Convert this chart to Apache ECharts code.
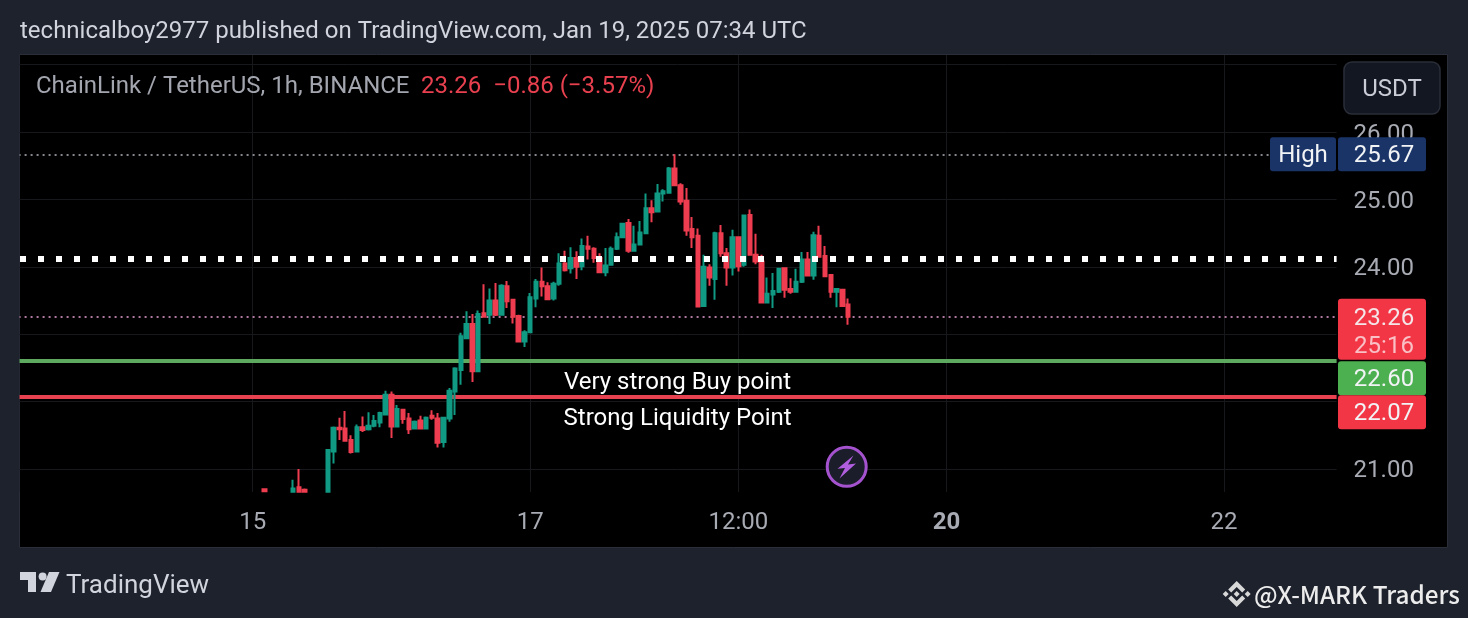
<!DOCTYPE html>
<html>
<head>
<meta charset="utf-8">
<title>ChainLink / TetherUS, 1h</title>
<style>html,body{margin:0;padding:0;background:#1e222d}#c{width:1468px;height:618px}</style>
<script src="https://cdn.jsdelivr.net/npm/echarts@6/dist/echarts.min.js"></script>
</head>
<body>
<div id="c"></div>
<script>
// hour offset of each candle from Jan 15 00:00 UTC
const hours = [2,7,8,9,13,14,15,16,17,18,19,20,21,22,23,24,25,26,27,28,29,30,31,32,33,34,35,36,37,38,39,40,41,42,43,44,45,46,47,48,49,50,51,52,53,54,55,56,57,58,59,60,61,62,63,64,65,66,67,68,69,70,71,72,73,74,75,76,77,78,79,80,81,82,83,84,85,86,87,88,89,90,91,92,93,94,95,96,97,98,99,100,101,102,103];
const opens = [20.70,20.66,20.73,20.69,20.66,21.26,21.61,21.60,21.43,21.26,21.62,21.59,21.64,21.69,21.81,22.10,21.63,21.88,21.75,21.60,21.72,21.60,21.79,21.75,21.40,21.75,22.15,22.47,22.94,23.15,22.45,23.31,23.29,23.50,23.29,23.71,23.51,23.27,22.89,23.03,23.53,23.78,23.71,23.53,23.75,24.05,23.98,24.13,24.01,24.30,24.27,24.13,23.92,24.03,24.27,24.44,24.65,24.24,24.33,24.50,24.87,24.82,25.09,25.10,25.46,25.21,24.98,24.56,24.46,23.42,23.99,23.82,24.50,24.20,23.99,24.44,24.03,24.77,24.18,24.08,23.47,23.59,23.63,23.98,23.67,23.63,23.78,24.11,23.87,24.46,24.16,23.88,23.63,23.66,23.44];
const closes = [20.67,20.71,20.66,20.66,21.28,21.61,21.59,21.42,21.25,21.62,21.58,21.64,21.71,21.83,22.10,21.63,21.89,21.74,21.59,21.70,21.60,21.76,21.76,21.39,21.76,22.16,22.49,22.97,23.15,22.45,23.30,23.26,23.50,23.29,23.72,23.49,23.26,22.89,23.03,23.55,23.78,23.71,23.52,23.75,24.05,23.95,24.13,24.00,24.31,24.27,24.13,23.92,24.02,24.27,24.44,24.64,24.24,24.33,24.51,24.87,24.81,25.09,25.12,25.46,25.21,24.97,24.54,24.44,23.41,24.00,23.84,24.50,24.20,23.99,24.44,24.01,24.76,24.18,24.08,23.47,23.60,23.64,23.97,23.66,23.63,23.78,24.11,23.87,24.47,24.15,23.86,23.63,23.67,23.42,23.26];
const lows = [20.66,20.66,20.66,20.66,20.66,21.08,21.43,21.41,21.23,21.25,21.55,21.57,21.62,21.62,21.80,21.46,21.62,21.67,21.52,21.59,21.59,21.59,21.73,21.32,21.32,21.70,21.80,22.25,22.93,22.29,22.44,23.25,23.15,23.27,23.28,23.39,23.16,22.88,22.81,23.02,23.40,23.56,23.52,23.50,23.72,23.93,23.90,23.82,23.95,24.11,24.06,23.91,23.86,24.02,24.25,24.43,24.21,24.23,24.32,24.49,24.66,24.81,24.97,25.09,25.20,24.92,24.46,24.28,23.41,23.41,23.72,23.51,24.15,23.72,23.87,23.93,24.00,24.17,24.04,23.47,23.46,23.39,23.61,23.54,23.60,23.63,23.76,23.86,23.81,24.15,23.85,23.54,23.40,23.42,23.14];
const highs = [20.70,20.84,21.00,20.71,21.28,21.63,21.76,21.86,21.50,21.66,21.78,21.84,21.80,21.85,22.16,22.15,21.95,21.89,21.83,21.72,21.79,21.78,21.87,21.83,21.77,22.20,22.51,23.02,23.34,23.30,23.35,23.74,23.68,23.76,23.74,23.79,23.52,23.29,23.06,23.61,23.82,23.99,23.77,23.78,24.20,24.24,24.29,24.23,24.42,24.46,24.29,24.20,24.28,24.30,24.51,24.65,24.71,24.61,24.68,25.09,24.99,25.23,25.15,25.48,25.67,25.24,25.17,24.74,24.57,24.18,24.04,24.52,24.62,24.28,24.55,24.44,24.77,24.85,24.49,24.18,23.84,23.91,23.98,23.99,23.83,23.97,24.22,24.22,24.52,24.61,24.31,23.88,23.68,23.67,23.53];

const xTickHours = [0,48,84,120,168];
const xTickLabels = ['15','17','12:00','20','22'];
const boldTicks = ['20'];
const yGridValues = [21,22,23,24,25,26,27];
const yLabelValues = [21,24,25,26];

const highPrice = 25.67;
const lastPrice = 23.26;
const countdown = '25:16';
const whiteLevel = 24.12;
const buyLevel = 22.60;
const buyText = 'Very strong Buy point';
const liquidityLevel = 22.07;
const liquidityText = 'Strong Liquidity Point';

const headerText = 'technicalboy2977 published on TradingView.com, Jan 19, 2025 07:34 UTC';
const symbolText = 'ChainLink / TetherUS, 1h, BINANCE';
const quoteText = '23.26  \u22120.86 (\u22123.57%)';

const FIRST = 40, COUNT = 228;
const categories = Array.from({length: COUNT}, (_, i) => String(i - FIRST));
const candles = new Array(COUNT).fill('-');
hours.forEach((h, k) => { candles[FIRST + h] = [opens[k], closes[k], lows[k], highs[k]]; });
const tickIndex = xTickHours.map(h => FIRST + h);

const FONT = 'Roboto, sans-serif';
const UP = '#109a83', DOWN = '#ef3d50';
const RED = '#f23645', GREEN = '#4caf50', NAVY = '#1a3468';

const chart = echarts.init(document.getElementById('c'), null, {renderer: 'canvas'});

function hLine(v, color, width, dash, extra) {
  return Object.assign({
    yAxis: v, symbol: 'none',
    lineStyle: {color, width, type: dash || 'solid', dashOffset: (extra && extra.dashOffset) || 0},
    label: {show: false}
  }, extra && extra.label ? {label: extra.label} : {});
}
function noteLabel(text) {
  return {show: true, position: 'middle', formatter: text, color: '#ffffff',
    fontFamily: FONT, fontSize: 24, offset: [0, 34], distance: 0};
}

chart.setOption({
  animation: false,
  backgroundColor: '#1e222d',
  title: [
    {text: headerText, left: 20, top: 18, textStyle: {color: '#d1d4dc', fontFamily: FONT, fontSize: 24, fontWeight: 'normal', lineHeight: 28}, padding: 0},
    {text: symbolText, left: 36, top: 73, textStyle: {color: '#a3a6af', fontFamily: FONT, fontSize: 24, fontWeight: 'normal', lineHeight: 28}, padding: 0},
    {text: quoteText, left: 421, top: 73, textStyle: {color: '#e8404f', fontFamily: FONT, fontSize: 24, fontWeight: 'normal', lineHeight: 28}, padding: 0}
  ],
  grid: {left: 18.6, top: 55, width: 1318, height: 437, containLabel: false},
  xAxis: {
    type: 'category', data: categories, boundaryGap: true,
    axisLine: {show: false}, axisTick: {show: false},
    splitLine: {show: true, alignWithLabel: true, interval: i => tickIndex.includes(i), lineStyle: {color: '#16181b', width: 1}},
    axisLabel: {
      interval: i => tickIndex.includes(i), margin: 19,
      color: '#a8abb3', fontFamily: FONT, fontSize: 24, alignWithLabel: true,
      formatter: (v, i) => {
        const t = xTickLabels[tickIndex.indexOf(i)] || '';
        return boldTicks.includes(t) ? '{b|' + t + '}' : t;
      },
      rich: {b: {color: '#a8abb3', fontFamily: FONT, fontSize: 24, fontWeight: 'bold'}}
    }
  },
  yAxis: {
    type: 'value', position: 'right', min: 20.658, max: 27.144, scale: true,
    axisLine: {show: false},
    axisTick: {show: false, customValues: yGridValues},
    splitLine: {show: true, lineStyle: {color: '#16181b', width: 1}},
    axisLabel: {
      customValues: yLabelValues, margin: 17,
      formatter: v => '{p|' + v.toFixed(2) + '}',
      rich: {p: {color: '#a8abb3', fontFamily: FONT, fontSize: 24, padding: [5, 0, 0, 0]}}
    }
  },
  series: [
    {
      type: 'line', data: [], z: 1, silent: true,
      markLine: {
        z: 1, silent: true, animation: false, symbol: 'none', precision: 2,
        data: [
          hLine(highPrice, '#85878c', 2, [2, 4]),
          hLine(lastPrice, '#b0789f', 2, [2, 4]),
          hLine(buyLevel, '#5ca95f', 4, 'solid', {label: noteLabel(buyText)}),
          hLine(liquidityLevel, '#e8414f', 4, 'solid', {label: noteLabel(liquidityText)})
        ]
      }
    },
    {
      type: 'candlestick', name: 'LINKUSDT', z: 2, data: candles, barWidth: 4,
      itemStyle: {color: UP, color0: DOWN, borderColor: UP, borderColor0: DOWN, borderWidth: 2}
    },
    {
      type: 'line', data: [], z: 5, silent: true,
      markLine: {
        z: 5, silent: true, animation: false, symbol: 'none', precision: 2,
        data: [hLine(whiteLevel, '#ffffff', 6, [6, 12], {dashOffset: 16.6})]
      }
    }
  ]
});

function tag(x, cy, w, h, fill, text, shift) {
  return {
    type: 'group', z: 50, children: [
      {type: 'rect', z: 50, shape: {x, y: cy - h / 2, width: w, height: h, r: 3}, style: {fill}},
      {type: 'text', z: 51, style: {x: x + w / 2 + shift, y: cy + 2, text, fill: '#f2f3f5', font: '24px ' + FONT, align: 'center', verticalAlign: 'middle'}}
    ]
  };
}
const yOf = v => chart.convertToPixel({yAxisIndex: 0}, v);
const yHigh = yOf(highPrice), yLast = yOf(lastPrice), yBuy = yOf(buyLevel), yLiq = yOf(liquidityLevel);
const TAGX = 1338, TAGW = 88;
const WM = '#d8d8d8';

chart.setOption({
  graphic: [
    {type: 'rect', z: -10, silent: true, shape: {x: 19.5, y: 54.5, width: 1428, height: 493}, style: {fill: '#000000', stroke: '#2a2e39', lineWidth: 1}},
    {type: 'rect', z: 40, silent: true, shape: {x: 17, y: 55, width: 2.5, height: 437}, style: {fill: '#1e222d'}},
    // currency button
    {type: 'rect', z: 60, shape: {x: 1344, y: 62, width: 96, height: 52, r: 8}, style: {fill: '#131722', stroke: '#2a2e39', lineWidth: 1.5}},
    {type: 'text', z: 61, style: {x: 1392, y: 90, text: 'USDT', fill: '#c9ccd5', font: '24px ' + FONT, align: 'center', verticalAlign: 'middle'}},
    // price tags
    tag(1270, yHigh, 66, 34, NAVY, 'High', 0),
    tag(TAGX, yHigh, TAGW, 34, NAVY, highPrice.toFixed(2), 2),
    {type: 'group', z: 50, children: [
      {type: 'rect', z: 50, shape: {x: TAGX, y: yLast - 18, width: TAGW, height: 61, r: 3}, style: {fill: RED}},
      {type: 'text', z: 51, style: {x: TAGX + TAGW / 2 + 2, y: yLast + 2, text: lastPrice.toFixed(2), fill: '#f4e6e8', font: '24px ' + FONT, align: 'center', verticalAlign: 'middle'}},
      {type: 'text', z: 51, style: {x: TAGX + TAGW / 2 + 2, y: yLast + 30, text: countdown, fill: '#f9c0c6', font: '24px ' + FONT, align: 'center', verticalAlign: 'middle'}}
    ]},
    tag(TAGX, yBuy + 17, TAGW, 34, GREEN, buyLevel.toFixed(2), 2),
    tag(TAGX, yLiq + 15.5, TAGW, 34, RED, liquidityLevel.toFixed(2), 2),
    // lightning badge
    {type: 'circle', z: 60, shape: {cx: 846.7, cy: 466.8, r: 19.5}, style: {fill: '#1b1d2a', stroke: '#a552cf', lineWidth: 3}},
    {type: 'polygon', z: 61, shape: {points: [[853.5,455.5],[837.5,468.8],[845,468],[839.5,478.5],[856,463.5],[848,464.5]]}, style: {fill: '#b25ee0'}},
    // TradingView logo
    {type: 'polygon', z: 60, shape: {points: [[20,572],[36,572],[36,592],[28,592],[28,580],[20,580]]}, style: {fill: '#d1d4dc'}},
    {type: 'circle', z: 60, shape: {cx: 42.6, cy: 576.5, r: 4}, style: {fill: '#d1d4dc'}},
    {type: 'polygon', z: 60, shape: {points: [[49,572],[59.5,572],[51,592],[40.5,592]]}, style: {fill: '#d1d4dc'}},
    {type: 'text', z: 60, style: {x: 66, y: 586, text: 'TradingView', fill: '#d1d4dc', font: '26px ' + FONT, align: 'left', verticalAlign: 'middle'}},
    // watermark
    {type: 'group', z: 60, x: 1236.7, y: 594, children: [
      {type: 'polygon', z: 60, shape: {points: [[0,-13],[8.5,-4.5],[5.5,-1.5],[0,-7],[-5.5,-1.5],[-8.5,-4.5]]}, style: {fill: WM}},
      {type: 'polygon', z: 60, shape: {points: [[0,13],[8.5,4.5],[5.5,1.5],[0,7],[-5.5,1.5],[-8.5,4.5]]}, style: {fill: WM}},
      {type: 'polygon', z: 60, shape: {points: [[-14,0],[-11,3],[-8,0],[-11,-3]]}, style: {fill: WM}},
      {type: 'polygon', z: 60, shape: {points: [[14,0],[11,3],[8,0],[11,-3]]}, style: {fill: WM}},
      {type: 'polygon', z: 60, shape: {points: [[0,-3],[3,0],[0,3],[-3,0]]}, style: {fill: WM}}
    ]},
    {type: 'text', z: 60, style: {x: 1460, y: 595, text: '@X-MARK Traders', fill: '#ececec', font: '500 24.3px "Noto Sans CJK SC", sans-serif', align: 'right', verticalAlign: 'middle'}}
  ]
});
</script>
</body>
</html>
